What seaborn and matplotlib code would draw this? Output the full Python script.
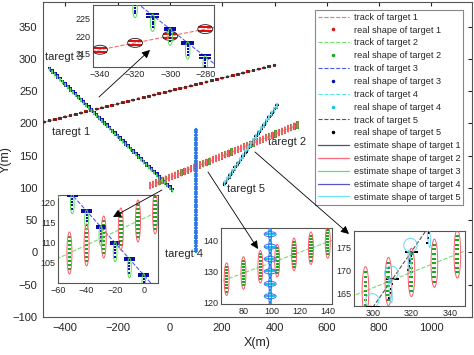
import numpy as np
import pandas as pd
import matplotlib
matplotlib.use('Agg')
import matplotlib.pyplot as plt
import seaborn as sns
from matplotlib.patches import Ellipse, FancyArrowPatch
from matplotlib.lines import Line2D

sns.set_style('white')
plt.rcParams['font.family'] = ['Liberation Sans', 'DejaVu Sans']

# centroid of every target at each scan
t1_x = [-480, -460, -440, -420, -400, -380, -360, -340, -320, -300, -280, -260, -240, -220, -200,
        -180, -160, -140, -120, -100, -80, -60, -40, -20, 0, 20, 40, 60, 80, 100,
        120, 140, 160, 180, 200, 220, 240, 260, 280, 300, 320, 340, 360, 380, 400]
t1_y = [202, 204, 206, 208, 210, 212, 214, 216, 218, 220, 222, 224, 226, 228, 230,
        232, 234, 236, 238, 240, 242, 244, 246, 248, 250, 252, 254, 256, 258, 260,
        262, 264, 266, 268, 270, 272, 274, 276, 278, 280, 282, 284, 286, 288, 290]

t2_x = [-76, -64, -52, -40, -28, -16, -4, 8, 20, 32, 44, 56, 68, 80, 92, 104,
        116, 128, 140, 152, 164, 176, 188, 200, 212, 224, 236, 248, 260, 272, 284, 296,
        308, 320, 332, 344, 356, 368, 380, 392, 404, 416, 428, 440, 452, 464, 476, 488]
t2_y = [103.5, 105.5, 107.5, 109.5, 111.5, 113.5, 115.5, 117.5, 119.5, 121.5, 123.5, 125.5,
        127.5, 129.5, 131.5, 133.5, 135.5, 137.5, 139.5, 141.5, 143.5, 145.5, 147.5, 149.5,
        151.5, 153.5, 155.5, 157.5, 159.5, 161.5, 163.5, 165.5, 167.5, 169.5, 171.5, 173.5,
        175.5, 177.5, 179.5, 181.5, 183.5, 185.5, 187.5, 189.5, 191.5, 193.5, 195.5, 197.5]

t3_x = [-460, -450, -440, -430, -420, -410, -400, -390, -380, -370, -360, -350, -340, -330, -320, -310,
        -300, -290, -280, -270, -260, -250, -240, -230, -220, -210, -200, -190, -180, -170, -160, -150,
        -140, -130, -120, -110, -100, -90, -80, -70, -60, -50, -40, -30, -20, -10, 0, 10]
t3_y = [286, 282, 278, 274, 270, 266, 262, 258, 254, 250, 246, 242, 238, 234, 230, 226,
        222, 218, 214, 210, 206, 202, 198, 194, 190, 186, 182, 178, 174, 170, 166, 162,
        158, 154, 150, 146, 142, 138, 134, 130, 126, 122, 118, 114, 110, 106, 102, 98]

t4_y = [2, 6, 10, 14, 18, 22, 26, 30, 34, 38, 42, 46, 50, 54, 58, 62,
        66, 70, 74, 78, 82, 86, 90, 94, 98, 102, 106, 110, 114, 118, 122, 126,
        130, 134, 138, 142, 146, 150, 154, 158, 162, 166, 170, 174, 178, 182, 186, 190]
t4_x = [99] * len(t4_y)

t5_x = [210, 220, 230, 240, 250, 260, 270, 280, 290, 300, 310,
        320, 330, 340, 350, 360, 370, 380, 390, 400, 410]
t5_y = [108, 114, 120, 126, 132, 138, 144, 150, 156, 162, 168,
        174, 180, 186, 192, 198, 204, 210, 216, 222, 228]

# real shape: offsets of the reflection points around the centroid
s1_dx = [-3.5, -2.5, -1.5, -0.5, 0.5, 1.5, 2.5, 3.5, -3.5, -2.5, -1.5, -0.5, 0.5, 1.5, 2.5, 3.5]
s1_dy = [0.5, 0.5, 0.5, 0.5, 0.5, 0.5, 0.5, 0.5, -0.5, -0.5, -0.5, -0.5, -0.5, -0.5, -0.5, -0.5]
s2_dx = [-0.5, 0.5, -0.5, 0.5, -0.5, 0.5, -0.5, 0.5, -0.5, 0.5, -0.5, 0.5, -0.5, 0.5, -0.5, 0.5, -0.5, 0.5]
s2_dy = [-4, -4, -3, -3, -2, -2, -1, -1, 0, 0, 1, 1, 2, 2, 3, 3, 4, 4]
s3_dx = [-3, -2.2, -1.4, -0.6, 0.6, 1.4, 2.2, 3, -3, -2.2, -1.4, -0.6, 0.6, 1.4, 2.2, 3, 0, 0, 0, 0]
s3_dy = [0.35, 0.35, 0.35, 0.35, 0.35, 0.35, 0.35, 0.35, -0.35, -0.35, -0.35, -0.35, -0.35, -0.35, -0.35, -0.35,
         -1, -1.8, -2.6, -3.4]
s4_dx = [-3, -2, -1, 0, 1, 2, 3, 0, 0, 0, 0]
s4_dy = [0, 0, 0, 0, 0, 0, 0, -2, -1, 1, 2]
s5_dx = [-3, -2, -1, 0, 1, 2, 3, -0.4, -0.8, -1.2, -1.6]
s5_dy = [0, 0, 0, 0, 0, 0, 0, -1, -2, -3, -4]

# estimated shape: ellipses (dx, dy, width, height, angle)
e1 = [(0, 0, 8.5, 2.6, 0)]
e2 = [(0, 0, 3.5, 10.5, 0)]
e3 = [(0, -2.2, 2.6, 5.0, 0)]
e4 = [(0, 0, 8.5, 1.6, 0), (0, 0, 2.2, 4.6, 0)]
e5 = [(-0.5, 1.4, 7, 3, 0), (-0.9, -2.4, 1.4, 5.5, 12)]

targets = [
    (t1_x, t1_y, s1_dx, s1_dy, e1, '#ff6b6b', '#e01010', '#333333'),
    (t2_x, t2_y, s2_dx, s2_dy, e2, '#6fe06f', '#1fa51f', '#ff5a6a'),
    (t3_x, t3_y, s3_dx, s3_dy, e3, '#4a5cf0', '#0a0ab0', '#55dd55'),
    (t4_x, t4_y, s4_dx, s4_dy, e4, '#5ee0e8', '#10c8e8', '#3b6ee8'),
    (t5_x, t5_y, s5_dx, s5_dy, e5, '#555555', '#000000', '#6ad8f0'),
]


def draw_scene(ax, dot_size=3, ell_lw=0.7):
    for tx, ty, sdx, sdy, ells, c_track, c_real, c_est in targets:
        sns.lineplot(x=tx, y=ty, ax=ax, color=c_track, linestyle='--', lw=0.8,
                     sort=False, estimator=None, legend=False)
        px, py = [], []
        for cx, cy in zip(tx, ty):
            for dx, dy in zip(sdx, sdy):
                px.append(cx + dx)
                py.append(cy + dy)
        dots = pd.DataFrame({'x': px, 'y': py})
        sns.scatterplot(data=dots, x='x', y='y', ax=ax, color=c_real, s=dot_size,
                        marker='s', linewidth=0, legend=False, zorder=3)
        for cx, cy in zip(tx, ty):
            for dx, dy, w, h, ang in ells:
                ax.add_patch(Ellipse((cx + dx, cy + dy), w, h, angle=ang, fill=False,
                                     edgecolor=c_est, lw=ell_lw, zorder=4))
    ax.set_xlabel('')
    ax.set_ylabel('')


W, H = 474, 355
fig = plt.figure(figsize=(W / 100, H / 100), dpi=100)


def px_axes(left, top, right, bottom):
    return fig.add_axes([left / W, 1 - bottom / H, (right - left) / W, (bottom - top) / H])


ax = px_axes(43, 2, 472, 317)
draw_scene(ax, dot_size=4, ell_lw=0.8)
ax.set_xlim(-485, 1155)
ax.set_ylim(-100, 388)
ax.set_xticks([-400, -200, 0, 200, 400, 600, 800, 1000])
ax.set_yticks([-100, -50, 0, 50, 100, 150, 200, 250, 300, 350])
ax.tick_params(direction='in', length=3, labelsize=8, top=True, right=True, pad=4, colors='#262626')
for s in ax.spines.values():
    s.set_color('#555555')
    s.set_linewidth(0.8)
ax.set_xlabel('X(m)', fontsize=9, labelpad=3)
ax.set_ylabel('Y(m)', fontsize=9)
ax.yaxis.set_label_coords(-0.072, 0.5)

ax.text(-478, 303, 'taregt 3', fontsize=8, va='center')
ax.text(-451, 187, 'taregt 1', fontsize=8, va='center')
ax.text(375, 171, 'taregt 2', fontsize=8, va='center')
ax.text(218, 99, 'taregt 5', fontsize=8, va='center')
ax.text(-19, -3, 'taregt 4', fontsize=8, va='center')

leg_handles = []
leg_labels = []
for i, (tx, ty, sdx, sdy, ells, c_track, c_real, c_est) in enumerate(targets, start=1):
    leg_handles.append(Line2D([], [], color=c_track, ls='--', lw=0.8))
    leg_labels.append(f'track of target {i}')
    leg_handles.append(Line2D([], [], color=c_real, marker='.', ls='none', ms=3))
    leg_labels.append(f'real shape of target {i}')
est_colors = ['#555555', '#ff6a7a', '#66e066', '#5555cc', '#6ae6f6']
for i, c in enumerate(est_colors, start=1):
    leg_handles.append(Line2D([], [], color=c, lw=0.9))
    leg_labels.append(f'estimate shape of target {i}')
leg = ax.legend(leg_handles, leg_labels, loc='upper right', bbox_to_anchor=(468 / W, 1 - 5 / H),
                bbox_transform=fig.transFigure, fontsize=6.6, labelspacing=0.42, handlelength=3.4,
                handletextpad=0.5, borderpad=0.35, fancybox=False, framealpha=1, edgecolor='#888888')
leg.get_frame().set_linewidth(0.8)

insets = [
    ((93, 5, 214, 67), (-344, -275), (211, 229), [-340, -320, -300, -280], [215, 220, 225]),
    ((58, 195, 158, 283), (-60, 10), (100, 122), [-60, -40, -20, 0], [105, 110, 115, 120]),
    ((221, 228, 332, 304), (64, 143), (119.5, 144), [80, 100, 120, 140], [120, 130, 140]),
    ((354, 231, 465, 306), (290, 348), (162.2, 178.5), [300, 320, 340], [165, 170, 175]),
]
for box, xl, yl, xt, yt in insets:
    a = px_axes(*box)
    draw_scene(a, dot_size=3, ell_lw=0.7)
    a.set_xlim(*xl)
    a.set_ylim(*yl)
    a.set_xticks(xt)
    a.set_yticks(yt)
    a.tick_params(direction='in', length=2, labelsize=6.5, pad=2, colors='#262626')
    a.set_facecolor('white')
    for s in a.spines.values():
        s.set_color('#555555')
        s.set_linewidth(0.8)

arrows = [((99, 97), (150, 50)), ((162, 190), (113, 217)),
          ((208, 172), (258, 249)), ((255, 152), (349, 234))]
for (x1, y1), (x2, y2) in arrows:
    fig.add_artist(FancyArrowPatch((x1 / W, 1 - y1 / H), (x2 / W, 1 - y2 / H),
                                   transform=fig.transFigure, arrowstyle='-|>',
                                   mutation_scale=12, lw=0.6, color='black',
                                   shrinkA=0, shrinkB=0, zorder=10))

fig.savefig('out.png', dpi=100)
